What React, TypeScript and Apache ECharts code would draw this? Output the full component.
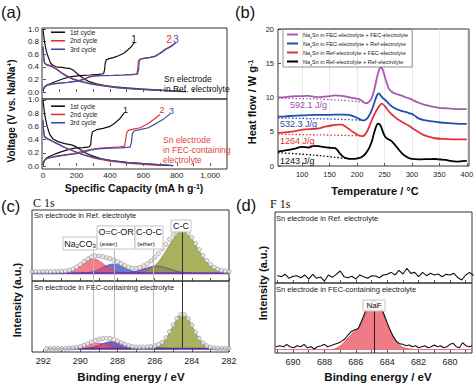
import React, { useEffect, useRef } from "react";
import * as echarts from "echarts";

const FF = '"Liberation Sans", Arial, Helvetica, sans-serif';
const SERIF = '"Liberation Serif", "DejaVu Serif", serif';

// ---------------- (a) charge / discharge profiles ----------------
const CAP_TICKS = [0, 100, 200, 300, 400, 500, 600, 700, 800, 900, 1000];
const CAP_LABELS = [0, 200, 400, 600, 800, 1000];
const VOLT_TICKS = [0, 0.2, 0.4, 0.6, 0.8, 1.0];
const CYCLES = ["1st cycle", "2nd cycle", "3rd cycle"];

// Ref. electrolyte
const REF_DIS_1 = [[0, 1.0], [4, 0.9], [10, 0.78], [20, 0.65], [32, 0.55], [45, 0.46], [60, 0.42], [80, 0.4], [110, 0.39], [140, 0.38], [165, 0.37], [185, 0.34], [205, 0.29], [225, 0.25], [250, 0.2], [280, 0.16], [320, 0.13], [370, 0.1], [430, 0.08], [500, 0.065], [580, 0.05], [680, 0.035], [780, 0.02], [855, 0.005]];
const REF_CHG_1 = [[0, 0.02], [8, 0.07], [25, 0.11], [50, 0.14], [80, 0.17], [120, 0.21], [170, 0.245], [220, 0.26], [280, 0.27], [330, 0.28], [362, 0.29], [368, 0.35], [372, 0.46], [378, 0.51], [395, 0.53], [425, 0.55], [455, 0.58], [485, 0.62], [508, 0.67], [528, 0.72], [547, 0.79]];
const REF_DIS_2 = [[0, 0.72], [3, 0.6], [8, 0.47], [20, 0.44], [50, 0.415], [80, 0.37], [110, 0.31], [140, 0.26], [180, 0.21], [230, 0.17], [290, 0.13], [360, 0.1], [440, 0.07], [540, 0.05], [640, 0.035], [740, 0.02], [820, 0.005]];
const REF_CHG_2 = [[0, 0.03], [8, 0.08], [25, 0.11], [60, 0.13], [100, 0.14], [150, 0.155], [200, 0.175], [240, 0.2], [270, 0.235], [300, 0.255], [350, 0.262], [420, 0.265], [480, 0.27], [530, 0.275], [560, 0.285], [566, 0.35], [570, 0.48], [576, 0.52], [600, 0.535], [640, 0.55], [670, 0.57], [700, 0.62], [730, 0.68], [760, 0.72], [785, 0.77]];
const REF_DIS_3 = [[0, 0.72], [3, 0.6], [8, 0.46], [20, 0.43], [50, 0.405], [80, 0.36], [110, 0.3], [140, 0.25], [180, 0.2], [230, 0.16], [290, 0.125], [360, 0.095], [440, 0.07], [540, 0.05], [640, 0.035], [740, 0.02], [840, 0.005]];
const REF_CHG_3 = [[0, 0.03], [8, 0.08], [25, 0.11], [60, 0.13], [100, 0.14], [150, 0.152], [200, 0.17], [240, 0.195], [270, 0.23], [300, 0.25], [350, 0.26], [420, 0.265], [480, 0.27], [530, 0.275], [565, 0.285], [571, 0.35], [575, 0.48], [581, 0.52], [605, 0.535], [645, 0.55], [675, 0.57], [705, 0.62], [735, 0.68], [765, 0.72], [795, 0.78]];

// FEC-containing electrolyte
const FEC_DIS_1 = [[0, 1.0], [4, 0.9], [12, 0.75], [25, 0.6], [40, 0.48], [60, 0.41], [90, 0.37], [130, 0.34], [170, 0.32], [200, 0.29], [230, 0.24], [260, 0.19], [300, 0.15], [350, 0.11], [420, 0.08], [500, 0.055], [600, 0.035], [700, 0.018], [775, 0.005]];
const FEC_CHG_1 = [[0, 0.02], [8, 0.08], [20, 0.12], [50, 0.16], [90, 0.2], [140, 0.24], [190, 0.27], [240, 0.28], [275, 0.29], [285, 0.32], [290, 0.45], [296, 0.52], [320, 0.55], [360, 0.57], [400, 0.6], [430, 0.65], [460, 0.72], [485, 0.8]];
const FEC_DIS_2 = [[0, 0.68], [3, 0.55], [8, 0.44], [25, 0.41], [60, 0.37], [100, 0.32], [140, 0.27], [190, 0.22], [250, 0.16], [320, 0.11], [400, 0.075], [500, 0.045], [600, 0.025], [710, 0.005]];
const FEC_CHG_2 = [[0, 0.03], [10, 0.09], [30, 0.12], [70, 0.145], [120, 0.165], [180, 0.19], [230, 0.22], [280, 0.25], [340, 0.27], [400, 0.28], [460, 0.29], [488, 0.3], [494, 0.4], [500, 0.5], [510, 0.54], [540, 0.56], [580, 0.58], [620, 0.63], [660, 0.7], [700, 0.78]];
const FEC_DIS_3 = [[0, 0.7], [3, 0.56], [8, 0.45], [25, 0.42], [60, 0.37], [100, 0.32], [140, 0.27], [190, 0.22], [250, 0.165], [320, 0.12], [400, 0.085], [500, 0.055], [600, 0.035], [700, 0.02], [780, 0.005]];
const FEC_CHG_3 = [[0, 0.03], [10, 0.09], [30, 0.12], [70, 0.14], [120, 0.16], [180, 0.18], [230, 0.2], [280, 0.24], [330, 0.26], [400, 0.27], [470, 0.275], [520, 0.285], [528, 0.35], [534, 0.49], [545, 0.53], [580, 0.55], [630, 0.58], [680, 0.65], [720, 0.71], [760, 0.79]];

// ---------------- (b) DSC ----------------
const TEMP_TICKS = [100, 150, 200, 250, 300, 350, 400];
const DSC_NAMES = [
  "NaxSn in FEC-electrolyte + FEC-electrolyte",
  "NaxSn in FEC-electrolyte + Ref-electrolyte",
  "NaxSn in Ref-electrolyte + FEC-electrolyte",
  "NaxSn in Ref-electrolyte + Ref-electrolyte",
];
const DSC_FEC_FEC = [[56, 10.0], [70, 10.05], [87, 10.2], [100, 10.2], [112, 10.25], [122, 10.1], [132, 10.05], [145, 10.15], [160, 10.3], [172, 10.25], [185, 10.05], [195, 9.9], [203, 9.75], [210, 9.45], [216, 9.15], [221, 9.3], [226, 9.8], [231, 11.0], [236, 12.8], [240, 14.0], [243, 14.4], [246, 14.2], [249, 13.5], [253, 12.4], [258, 11.3], [264, 10.8], [270, 10.55], [280, 10.3], [290, 10.0], [300, 9.7], [310, 9.3], [322, 8.95], [335, 8.7], [350, 8.5], [365, 8.4], [380, 8.3], [400, 8.3]];
const DSC_FEC_REF = [[56, 7.2], [70, 7.25], [87, 7.35], [105, 7.4], [124, 7.45], [140, 7.45], [160, 7.5], [175, 7.5], [185, 7.45], [195, 7.2], [202, 6.95], [208, 6.7], [213, 6.65], [218, 6.9], [223, 7.5], [228, 8.4], [233, 9.6], [237, 10.4], [240, 10.6], [243, 10.3], [247, 9.9], [252, 9.6], [258, 9.1], [265, 8.6], [272, 8.3], [282, 8.0], [292, 7.8], [300, 7.6], [306, 7.3], [312, 6.95], [322, 6.7], [337, 6.5], [352, 6.35], [367, 6.25], [385, 6.15], [400, 6.15]];
const DSC_REF_FEC = [[56, 4.8], [69, 4.9], [87, 5.1], [105, 5.35], [118, 5.4], [128, 5.45], [142, 5.75], [155, 5.95], [166, 6.05], [172, 6.05], [178, 5.8], [185, 5.4], [192, 5.0], [200, 4.6], [208, 4.35], [213, 4.45], [218, 5.0], [223, 5.9], [228, 6.9], [234, 7.9], [240, 8.7], [245, 9.1], [249, 8.9], [254, 8.4], [260, 7.8], [268, 7.2], [276, 6.7], [285, 6.3], [294, 5.9], [303, 5.4], [312, 4.95], [321, 4.55], [330, 4.3], [342, 4.05], [355, 3.95], [375, 3.9], [400, 3.9]];
const DSC_REF_REF = [[56, 2.1], [65, 2.2], [75, 2.35], [87, 2.55], [99, 2.8], [106, 2.75], [112, 2.7], [121, 2.95], [130, 2.9], [140, 2.75], [152, 2.65], [160, 2.6], [164, 2.35], [168, 1.9], [174, 1.4], [180, 1.15], [187, 1.05], [195, 1.05], [203, 1.15], [210, 1.4], [216, 1.85], [222, 2.6], [227, 3.6], [231, 4.8], [235, 5.8], [238, 6.2], [241, 6.1], [244, 5.7], [248, 4.8], [252, 4.2], [257, 3.9], [262, 3.7], [268, 3.2], [274, 2.6], [282, 1.85], [290, 1.35], [296, 1.12], [305, 1.0], [315, 0.98], [330, 1.0], [342, 1.02], [352, 0.95], [362, 0.88], [372, 0.72], [382, 0.65], [392, 0.72], [400, 0.75]];
const BASE_FEC_FEC = [[56, 9.9], [120, 9.8], [170, 9.6], [214, 9.3]];
const BASE_FEC_REF = [[56, 7.0], [130, 6.9], [206, 6.7]];
const BASE_REF_FEC = [[56, 4.65], [130, 4.55], [210, 4.4]];
const BASE_REF_REF = [[56, 1.95], [120, 1.6], [186, 1.05]];
const HEATS = ["592.1 J/g", "532.3 J/g", "1264 J/g", "1243 J/g"];

// ---------------- (c) C 1s ----------------
const BE_C_TICKS = [282, 283, 284, 285, 286, 287, 288, 289, 290, 291, 292];
const BE_C_LABELS = [282, 284, 286, 288, 290, 292];
const C1S_LINES = [289.3, 288.15, 286.07, 284.54];
const C_REF_ENV = [[292.6, 13.0], [292.4, 13.0], [292.2, 13.0], [292.0, 13.1], [291.8, 13.2], [291.6, 13.3], [291.4, 13.4], [291.2, 13.5], [291.0, 13.7], [290.8, 14.0], [290.6, 15.0], [290.4, 16.9], [290.2, 19.6], [290.0, 23.0], [289.8, 27.2], [289.6, 31.0], [289.4, 34.0], [289.2, 35.4], [289.0, 35.3], [288.8, 34.3], [288.6, 32.8], [288.4, 31.4], [288.2, 29.6], [288.0, 27.2], [287.8, 24.5], [287.6, 21.6], [287.4, 19.4], [287.2, 18.0], [287.0, 17.9], [286.8, 19.0], [286.6, 21.3], [286.4, 24.3], [286.2, 28.4], [286.0, 33.2], [285.8, 38.7], [285.6, 45.0], [285.4, 51.7], [285.2, 58.7], [285.0, 65.1], [284.8, 69.8], [284.6, 72.1], [284.4, 71.4], [284.2, 67.5], [284.0, 61.1], [283.8, 52.8], [283.6, 44.1], [283.4, 35.9], [283.2, 28.8], [283.0, 23.3], [282.8, 19.3], [282.6, 16.6], [282.4, 15.0], [282.2, 14.0], [282.0, 13.5]];
const C_REF_NA2CO3 = [[291.4, 11.0], [291.2, 11.1], [291.0, 11.3], [290.8, 11.8], [290.6, 12.8], [290.4, 14.6], [290.2, 17.3], [290.0, 20.9], [289.8, 25.0], [289.6, 28.5], [289.4, 30.6], [289.2, 30.6], [289.0, 28.5], [288.8, 25.0], [288.6, 20.9], [288.4, 17.3], [288.2, 14.6], [288.0, 12.8], [287.8, 11.8], [287.6, 11.3], [287.4, 11.1], [287.2, 11.0]];
const C_REF_ESTER = [[290.0, 11.1], [289.8, 11.35], [289.6, 11.8], [289.4, 12.7], [289.2, 14.2], [289.0, 16.3], [288.8, 18.8], [288.6, 21.4], [288.4, 23.3], [288.2, 24.0], [288.0, 23.3], [287.8, 21.4], [287.6, 18.8], [287.4, 16.3], [287.2, 14.2], [287.0, 12.7], [286.8, 11.8], [286.6, 11.35], [286.4, 11.1]];
const C_REF_ETHER = [[287.8, 11.2], [287.6, 11.4], [287.4, 11.9], [287.2, 12.6], [287.0, 13.7], [286.8, 15.2], [286.6, 16.9], [286.4, 18.6], [286.2, 20.1], [286.0, 20.9], [285.8, 20.9], [285.6, 20.1], [285.4, 18.6], [285.2, 16.9], [285.0, 15.2], [284.8, 13.7], [284.6, 12.6], [284.4, 11.9], [284.2, 11.4], [284.0, 11.2]];
const C_REF_CC = [[287.2, 11.2], [287.0, 11.5], [286.8, 12.0], [286.6, 13.0], [286.4, 14.6], [286.2, 17.3], [286.0, 21.3], [285.8, 26.8], [285.6, 33.9], [285.4, 42.1], [285.2, 50.8], [285.0, 58.9], [284.8, 65.1], [284.6, 68.5], [284.4, 68.5], [284.2, 65.1], [284.0, 58.9], [283.8, 50.8], [283.6, 42.1], [283.4, 33.9], [283.2, 26.8], [283.0, 21.3], [282.8, 17.3], [282.6, 14.6], [282.4, 13.0], [282.2, 12.0], [282.0, 11.5]];
const C_REF_BASE = [[292.6, 11], [282.0, 11]];

const C_FEC_ENV = [[291.8, 5.0], [291.6, 5.0], [291.4, 5.0], [291.2, 5.0], [291.0, 5.05], [290.8, 5.15], [290.6, 5.35], [290.4, 5.75], [290.2, 6.5], [290.0, 7.7], [289.8, 9.4], [289.6, 11.5], [289.4, 13.9], [289.2, 16.1], [289.0, 17.9], [288.8, 19.1], [288.6, 19.4], [288.4, 18.9], [288.2, 17.4], [288.0, 15.4], [287.8, 13.0], [287.6, 10.6], [287.4, 8.8], [287.2, 7.6], [287.0, 7.0], [286.8, 6.8], [286.6, 6.8], [286.4, 7.2], [286.2, 7.6], [286.0, 8.6], [285.8, 10.4], [285.6, 13.6], [285.4, 20.0], [285.2, 28.6], [285.0, 38.2], [284.8, 47.2], [284.6, 52.4], [284.4, 52.3], [284.2, 46.9], [284.0, 37.8], [283.8, 27.8], [283.6, 19.0], [283.4, 12.6], [283.2, 8.7], [283.0, 6.6], [282.8, 5.6], [282.6, 5.2], [282.4, 5.0], [282.2, 5.0], [282.0, 5.0]];
const C_FEC_NA2CO3 = [[291.0, 4.55], [290.8, 4.6], [290.6, 4.8], [290.4, 5.2], [290.2, 5.95], [290.0, 7.0], [289.8, 8.5], [289.6, 10.1], [289.4, 11.55], [289.2, 12.4], [289.0, 12.4], [288.8, 11.55], [288.6, 10.1], [288.4, 8.5], [288.2, 7.0], [288.0, 5.95], [287.8, 5.2], [287.6, 4.8], [287.4, 4.6], [287.2, 4.55]];
const C_FEC_ESTER = [[290.2, 4.56], [290.0, 4.7], [289.8, 4.9], [289.6, 5.4], [289.4, 6.3], [289.2, 7.7], [289.0, 9.5], [288.8, 11.5], [288.6, 13.3], [288.4, 14.4], [288.2, 14.4], [288.0, 13.3], [287.8, 11.5], [287.6, 9.5], [287.4, 7.7], [287.2, 6.3], [287.0, 5.4], [286.8, 4.9], [286.6, 4.7], [286.4, 4.56]];
const C_FEC_ETHER = [[287.8, 4.66], [287.6, 4.8], [287.4, 5.0], [287.2, 5.25], [287.0, 5.55], [286.8, 5.9], [286.6, 6.1], [286.4, 6.3], [286.2, 6.3], [286.0, 6.1], [285.8, 5.9], [285.6, 5.55], [285.4, 5.25], [285.2, 5.0], [285.0, 4.8], [284.8, 4.66]];
const C_FEC_CC = [[286.4, 4.7], [286.2, 5.1], [286.0, 6.1], [285.8, 8.2], [285.6, 12.1], [285.4, 18.5], [285.2, 27.3], [285.0, 37.3], [284.8, 46.4], [284.6, 51.8], [284.4, 51.8], [284.2, 46.4], [284.0, 37.3], [283.8, 27.3], [283.6, 18.5], [283.4, 12.1], [283.2, 8.2], [283.0, 6.1], [282.8, 5.1], [282.6, 4.7]];
const C_FEC_BASE = [[291.8, 4.5], [282.0, 4.5]];

// ---------------- (d) F 1s ----------------
const BE_F_TICKS = [679, 680, 681, 682, 683, 684, 685, 686, 687, 688, 689, 690, 691];
const BE_F_LABELS = [680, 682, 684, 686, 688, 690];
const F_REF_BE = [691.0, 690.75, 690.5, 690.25, 690.0, 689.75, 689.5, 689.25, 689.0, 688.75, 688.5, 688.25, 688.0, 687.75, 687.5, 687.25, 687.0, 686.75, 686.5, 686.25, 686.0, 685.75, 685.5, 685.25, 685.0, 684.75, 684.5, 684.25, 684.0, 683.75, 683.5, 683.25, 683.0, 682.75, 682.5, 682.25, 682.0, 681.75, 681.5, 681.25, 681.0, 680.75, 680.5, 680.25, 680.0, 679.75, 679.5, 679.25, 679.0, 678.75, 678.5];
const F_REF_INT = [10.5, 8.9, 12.2, 6.6, 9.4, 10.3, 7.5, 11.3, 5.6, 12.2, 6.6, 8.5, 2.8, 11.3, 8.0, 12.2, 16.9, 8.9, 7.5, 9.4, 5.6, 11.3, 8.9, 6.6, 10.3, 9.9, 7.5, 11.3, 12.2, 15.0, 11.3, 17.8, 12.7, 20.7, 13.6, 15.0, 8.9, 15.0, 10.3, 13.6, 11.3, 12.7, 8.9, 12.2, 11.3, 13.6, 7.5, 4.2, 11.3, 15.0, 10.3];
const F_FEC_ENV = [[691.1, 9.0], [690.85, 10.4], [690.6, 9.0], [690.4, 12.4], [690.2, 9.0], [689.95, 7.6], [689.75, 10.4], [689.5, 9.0], [689.3, 12.4], [689.1, 7.6], [688.85, 9.0], [688.65, 5.7], [688.45, 9.0], [688.2, 10.4], [688.0, 12.4], [687.8, 9.0], [687.6, 10.4], [687.35, 12.4], [687.15, 13.8], [686.95, 16.2], [686.7, 20], [686.5, 25.7], [686.3, 30.5], [686.1, 33], [685.85, 35], [685.65, 45], [685.45, 56], [685.3, 64], [685.1, 72], [684.85, 75], [684.6, 72], [684.4, 65], [684.2, 55], [684.0, 43], [683.8, 32], [683.6, 23], [683.4, 16.5], [683.2, 13], [683.0, 12.4], [682.8, 10.4], [682.6, 11.4], [682.4, 9.0], [682.2, 10.4], [682.0, 7.6], [681.8, 9.0], [681.6, 10.4], [681.4, 7.6], [681.2, 9.0], [681.0, 11.4], [680.8, 9.0], [680.6, 10.4], [680.4, 7.6], [680.2, 9.0], [680.0, 12.4], [679.8, 13.8], [679.6, 9.0], [679.4, 7.6], [679.2, 14.7], [679.0, 10.4], [678.8, 9.0], [678.6, 10.4]];
const F_FEC_NAF = [[687.6, 5.2], [687.4, 5.5], [687.2, 7], [687.0, 10], [686.8, 14], [686.6, 19], [686.4, 24], [686.2, 28.5], [686.0, 32], [685.8, 36], [685.6, 44], [685.4, 55], [685.2, 63.3], [685.0, 70.4], [684.8, 73], [684.6, 70.4], [684.4, 63.3], [684.2, 53.1], [684.0, 41.8], [683.8, 31.0], [683.6, 22.1], [683.4, 15.3], [683.2, 10.8], [683.0, 8.0], [682.8, 6.5], [682.6, 5.7], [682.4, 5.3], [682.2, 5.1]];
const F_FEC_BASE = [[691.2, 5], [678.6, 5]];
const NAF_LINE = 684.85;

// ---------------- styling helpers ----------------
const BLACK = "#111111";
const RED = "#e2323a";
const BLUE = "#3d4ea6";
const PURPLE_B = "#a958b3";
const BLUE_B = "#2150b2";

const tick = (values: number[] | null, show = true) => ({
  show,
  inside: true,
  length: 3,
  lineStyle: { color: "#333", width: 0.8 },
  ...(values ? { customValues: values } : {}),
});

const grid = (left: number, top: number, width: number, height: number) => ({
  left, top, width, height,
  show: true,
  borderColor: "#333",
  borderWidth: 1,
  backgroundColor: "transparent",
  containLabel: false,
  outerBoundsMode: "none",
});

const ax = (gi: number, min: number, max: number, extra: any = {}) => ({
  type: "value",
  gridIndex: gi,
  min, max,
  axisLine: { show: false },
  splitLine: { show: false },
  ...extra,
});

const lbl = (values: number[] | null, fontSize: number, margin: number, extra: any = {}) => ({
  show: true,
  fontFamily: FF,
  color: "#222",
  fontSize,
  margin,
  ...(values ? { customValues: values } : {}),
  ...extra,
});

const line = (name: string, data: any, gi: number, color: string, width: number, extra: any = {}) => ({
  type: "line",
  name,
  data,
  xAxisIndex: gi,
  yAxisIndex: gi,
  symbol: "none",
  showSymbol: false,
  lineStyle: { color, width },
  itemStyle: { color },
  z: 3,
  ...extra,
});

const fill = (data: any, gi: number, color: string, stroke: string, origin: number) => ({
  type: "line",
  data,
  xAxisIndex: gi,
  yAxisIndex: gi,
  symbol: "none",
  smooth: 0.3,
  lineStyle: { color: stroke, width: 0.7 },
  areaStyle: { color, origin, opacity: 1 },
  z: 2,
  silent: true,
});

const dots = (data: any, gi: number) => ({
  type: "scatter",
  data,
  xAxisIndex: gi,
  yAxisIndex: gi,
  symbol: "circle",
  symbolSize: 4.2,
  itemStyle: { color: "rgba(228,228,228,0.95)", borderColor: "#8a8a8a", borderWidth: 0.8 },
  z: 4,
  silent: true,
});

const vlines = (gi: number, xs: number[], ext: number[][], colors: string[]) => ({
  type: "line",
  data: [],
  xAxisIndex: gi,
  yAxisIndex: gi,
  z: 5,
  silent: true,
  markLine: {
    silent: true,
    symbol: ["none", "none"],
    label: { show: false },
    lineStyle: { type: "solid", width: 1, color: "#b5b5b5" },
    data: xs.map((x, i) => [
      { coord: [x, ext[i][0]], lineStyle: { color: colors[i], type: "solid", width: 1 } },
      { coord: [x, ext[i][1]] },
    ]),
  },
});

const txt = (x: number, y: number, text: string, o: any = {}) => ({
  type: "text",
  x, y,
  z: 100,
  rotation: o.rotation || 0,
  style: {
    text,
    fontFamily: o.fontFamily || FF,
    fontSize: o.fontSize || 9,
    fontWeight: o.fontWeight || "normal",
    fill: o.fill || "#111",
    align: o.align || "left",
    verticalAlign: o.verticalAlign || "middle",
    rich: o.rich,
  },
});

const box = (x: number, y: number, w: number, h: number) => ({
  type: "rect",
  z: 99,
  shape: { x, y, width: w, height: h },
  style: { fill: "rgba(255,255,255,0.9)", stroke: "#c4c4c4", lineWidth: 1 },
});

const SUP = (fs: number) => ({ sup: { fontSize: fs, fontWeight: "bold", fontFamily: FF, verticalAlign: "top", padding: [0, 0, 4, 0] } });
const SUB = (fs: number) => ({ sub: { fontSize: fs, fontFamily: FF, verticalAlign: "bottom", padding: [4, 0, 0, 0] } });

const option: any = {
  animation: false,
  backgroundColor: "#ffffff",
  textStyle: { fontFamily: FF },
  grid: [
    grid(42, 28, 185, 71),
    grid(42, 99, 185, 70),
    grid(278, 29, 191, 137),
    grid(32, 210, 197, 71),
    grid(32, 281, 197, 71),
    grid(275, 212, 197, 71),
    grid(275, 283, 197, 70),
  ],
  xAxis: [
    ax(0, -6, 1100, { axisTick: tick(CAP_TICKS), axisLabel: { show: false } }),
    ax(1, -6, 1100, { axisTick: tick(CAP_TICKS), axisLabel: lbl(CAP_LABELS, 8, 2) }),
    ax(2, 56, 404, {
      axisTick: tick(TEMP_TICKS),
      axisLabel: lbl(TEMP_TICKS, 7.5, 4),
      splitLine: { show: true, lineStyle: { color: "#e3e3e3", width: 0.8 } },
    }),
    ax(3, 282, 292.6, { inverse: true, axisTick: tick(BE_C_TICKS), axisLabel: { show: false } }),
    ax(4, 282, 292.6, { inverse: true, axisTick: tick(BE_C_TICKS), axisLabel: lbl(BE_C_LABELS, 9, 4) }),
    ax(5, 678.6, 691.15, { inverse: true, axisTick: tick(BE_F_TICKS), axisLabel: { show: false } }),
    ax(6, 678.6, 691.15, { inverse: true, axisTick: tick(BE_F_TICKS), axisLabel: lbl(BE_F_LABELS, 9, 4) }),
  ],
  yAxis: [
    ax(0, -0.111, 1.016, { axisTick: tick(VOLT_TICKS), axisLabel: lbl(VOLT_TICKS, 8, 3, { formatter: (v: number) => v.toFixed(1) }) }),
    ax(1, -0.045, 1.015, { axisTick: tick(VOLT_TICKS), axisLabel: lbl(VOLT_TICKS, 8, 3, { formatter: (v: number) => v.toFixed(1) }) }),
    ax(2, 0, 20, { interval: 5, axisTick: tick(null), axisLabel: lbl(null, 7.5, 4) }),
    ax(3, 0, 100, { axisTick: { show: false }, axisLabel: { show: false } }),
    ax(4, 0, 100, { axisTick: { show: false }, axisLabel: { show: false } }),
    ax(5, 0, 100, { axisTick: { show: false }, axisLabel: { show: false } }),
    ax(6, 0, 100, { axisTick: { show: false }, axisLabel: { show: false } }),
  ],
  legend: [
    {
      data: CYCLES, left: 51, top: 28, orient: "vertical", icon: "rect",
      itemWidth: 14, itemHeight: 1.6, itemGap: 0, padding: 0, selectedMode: false,
      textStyle: { fontFamily: FF, fontSize: 6.5, lineHeight: 8.5, color: "#222" },
    },
    {
      data: CYCLES, left: 51, top: 102, orient: "vertical", icon: "rect",
      itemWidth: 14, itemHeight: 1.6, itemGap: 0, padding: 0, selectedMode: false,
      textStyle: { fontFamily: FF, fontSize: 6.5, lineHeight: 8.3, color: "#222" },
    },
    {
      data: DSC_NAMES, left: 283, top: 29, orient: "vertical", icon: "rect",
      itemWidth: 11, itemHeight: 2, itemGap: 0, padding: [1, 4, 1, 4], selectedMode: false,
      borderColor: "#777", borderWidth: 0.8,
      formatter: (n: string) => n.replace("Nax", "Na{s|x}"),
      textStyle: {
        fontFamily: FF, fontSize: 5.5, lineHeight: 9, color: "#222",
        rich: { s: { fontFamily: FF, fontSize: 4, verticalAlign: "bottom", lineHeight: 9, padding: [3, 0, 0, 0], color: "#222" } },
      },
    },
  ],
  series: [
    // (a) top — Ref. electrolyte
    line(CYCLES[0], REF_DIS_1, 0, BLACK, 1.2),
    line(CYCLES[0], REF_CHG_1, 0, BLACK, 1.2),
    line(CYCLES[1], REF_DIS_2, 0, RED, 1.2),
    line(CYCLES[1], REF_CHG_2, 0, RED, 1.2),
    line(CYCLES[2], REF_DIS_3, 0, BLUE, 1.2),
    line(CYCLES[2], REF_CHG_3, 0, BLUE, 1.2),
    // (a) bottom — FEC electrolyte
    line(CYCLES[0], FEC_DIS_1, 1, BLACK, 1.2),
    line(CYCLES[0], FEC_CHG_1, 1, BLACK, 1.2),
    line(CYCLES[1], FEC_DIS_2, 1, RED, 1.2),
    line(CYCLES[1], FEC_CHG_2, 1, RED, 1.2),
    line(CYCLES[2], FEC_DIS_3, 1, BLUE, 1.2),
    line(CYCLES[2], FEC_CHG_3, 1, BLUE, 1.2),
    // (b) DSC
    line(DSC_NAMES[3], DSC_REF_REF, 2, "#000000", 1.8, { smooth: 0.3 }),
    line(DSC_NAMES[2], DSC_REF_FEC, 2, RED, 1.8, { smooth: 0.3 }),
    line(DSC_NAMES[1], DSC_FEC_REF, 2, BLUE_B, 1.8, { smooth: 0.3 }),
    line(DSC_NAMES[0], DSC_FEC_FEC, 2, PURPLE_B, 1.8, { smooth: 0.3 }),
    line("b0", BASE_FEC_FEC, 2, PURPLE_B, 1.3, { smooth: 0.3, lineStyle: { color: PURPLE_B, width: 1.3, type: [1.5, 2] } }),
    line("b1", BASE_FEC_REF, 2, BLUE_B, 1.3, { smooth: 0.3, lineStyle: { color: BLUE_B, width: 1.3, type: [1.5, 2] } }),
    line("b2", BASE_REF_FEC, 2, RED, 1.3, { smooth: 0.3, lineStyle: { color: RED, width: 1.3, type: [1.5, 2] } }),
    line("b3", BASE_REF_REF, 2, "#000", 1.3, { smooth: 0.3, lineStyle: { color: "#000", width: 1.3, type: [1.5, 2] } }),
    // (c) top
    fill(C_REF_ETHER, 3, "rgba(104,52,172,0.78)", "#5b2c9a", 11),
    fill(C_REF_CC, 3, "rgba(150,160,58,0.82)", "#7d8630", 11),
    fill(C_REF_ESTER, 3, "rgba(62,84,196,0.78)", "#3a4cb0", 11),
    fill(C_REF_NA2CO3, 3, "rgba(244,74,96,0.72)", "#e03a55", 11),
    line("cb0", C_REF_BASE, 3, "#6a3aa8", 2),
    dots(C_REF_ENV, 3),
    vlines(3, C1S_LINES, [[44, 0], [46.5, 0], [46.5, 0], [69, 0]], ["#b8b8b8", "#b8b8b8", "#b8b8b8", "#333"]),
    // (c) bottom
    fill(C_FEC_ETHER, 4, "rgba(104,52,172,0.78)", "#5b2c9a", 4.5),
    fill(C_FEC_CC, 4, "rgba(150,160,58,0.82)", "#7d8630", 4.5),
    fill(C_FEC_ESTER, 4, "rgba(84,52,176,0.8)", "#4a30a0", 4.5),
    fill(C_FEC_NA2CO3, 4, "rgba(244,74,96,0.72)", "#e03a55", 4.5),
    line("cb1", C_FEC_BASE, 4, "#5a3098", 2),
    dots(C_FEC_ENV, 4),
    vlines(4, C1S_LINES, [[100, 10], [100, 20], [100, 4], [100, 6]], ["#b8b8b8", "#b8b8b8", "#b8b8b8", "#333"]),
    // (d) top
    line("d0", F_REF_BE.map((x, i) => [x, F_REF_INT[i]]), 5, "#111", 1.1),
    // (d) bottom
    fill(F_FEC_NAF, 6, "rgba(236,84,100,0.78)", "#c0303e", 5),
    line("d1", F_FEC_BASE, 6, "#f07080", 1.2),
    line("d2", F_FEC_ENV, 6, "#111", 1.1),
    vlines(6, [NAF_LINE], [[61, 0]], ["#222"]),
  ],
  graphic: {
    elements: [
      // panel letters
      txt(1, 12, "(a)", { fontSize: 16.5 }),
      txt(235, 12, "(b)", { fontSize: 16.5 }),
      txt(1, 206, "(c)", { fontSize: 16.5 }),
      txt(236, 205, "(d)", { fontSize: 16.5 }),
      // (a)
      txt(11, 111, "Voltage (V vs. Na/Na{sup|+})", { rotation: Math.PI / 2, align: "center", fontSize: 10, fontWeight: "bold", rich: SUP(6.5) }),
      txt(134, 188, "Specific Capacity (mA h g{sup|-1})", { align: "center", fontSize: 10.5, fontWeight: "bold", rich: SUP(7) }),
      txt(134, 39.5, "1", { align: "center", fontSize: 10, fill: BLACK }),
      txt(169, 39.5, "2", { align: "center", fontSize: 10, fill: RED }),
      txt(176, 39.5, "3", { align: "center", fontSize: 10, fill: BLUE }),
      txt(125.5, 110, "1", { align: "center", fontSize: 9, fill: BLACK }),
      txt(162, 110, "2", { align: "center", fontSize: 9, fill: RED }),
      txt(171.5, 110.5, "3", { align: "center", fontSize: 9, fill: BLUE }),
      txt(164, 78.5, "Sn electrode", { fontSize: 8.5 }),
      txt(164, 88.5, "in Ref. electrolyte", { fontSize: 8.5 }),
      txt(163, 139.5, "Sn electrode", { fontSize: 8.5, fill: "#e0443c" }),
      txt(163, 149.5, "in FEC-containing", { fontSize: 8.5, fill: "#e0443c" }),
      txt(163, 159.5, "electrolyte", { fontSize: 8.5, fill: "#e0443c" }),
      // (b)
      txt(252, 102, "Heat flow / W g{sup|-1}", { rotation: Math.PI / 2, align: "center", fontSize: 11, fontWeight: "bold", rich: SUP(7) }),
      txt(375, 191, "Temperature / °C", { align: "center", fontSize: 11, fontWeight: "bold" }),
      txt(290, 104.5, HEATS[0], { fontSize: 9, fill: "#a24ea8" }),
      txt(280, 123.5, HEATS[1], { fontSize: 9, fill: "#2a48a2" }),
      txt(280, 140.5, HEATS[2], { fontSize: 9, fill: "#e03030" }),
      txt(280, 161, HEATS[3], { fontSize: 9, fill: "#111" }),
      // (c)
      txt(33, 203, "C 1s", { fontSize: 12, fontFamily: SERIF }),
      txt(17, 300, "Intensity (a.u.)", { rotation: Math.PI / 2, align: "center", fontSize: 11, fontWeight: "bold" }),
      txt(131, 377, "Binding energy / eV", { align: "center", fontSize: 11.5, fontWeight: "bold" }),
      txt(34, 215.5, "Sn electrode in Ref. electrolyte", { fontSize: 7.5, fill: "#222" }),
      txt(34, 287.5, "Sn electrode in FEC-containing electrolyte", { fontSize: 7.5, fill: "#222" }),
      box(63, 237, 34, 13),
      txt(80, 243.5, "Na{sub|2}CO{sub|3}", { align: "center", fontSize: 9, rich: SUB(6) }),
      box(97, 226, 38, 23),
      txt(116, 232, "O=C-OR", { align: "center", fontSize: 9 }),
      txt(108.5, 244, "(ester)", { align: "center", fontSize: 6 }),
      box(135, 226, 28, 23),
      txt(149, 232, "C-O-C", { align: "center", fontSize: 9 }),
      txt(146, 244, "(ether)", { align: "center", fontSize: 6 }),
      box(171, 220, 20, 12),
      txt(181, 226, "C-C", { align: "center", fontSize: 9 }),
      // (d)
      txt(270, 204, "F 1s", { fontSize: 12, fontFamily: SERIF }),
      txt(263, 283, "Intensity (a.u.)", { rotation: Math.PI / 2, align: "center", fontSize: 11, fontWeight: "bold" }),
      txt(378, 377, "Binding energy / eV", { align: "center", fontSize: 11.5, fontWeight: "bold" }),
      txt(276, 218.5, "Sn electrode in Ref. electrolyte", { fontSize: 7.5, fill: "#222" }),
      txt(276, 289.5, "Sn electrode in FEC-containing electrolyte", { fontSize: 7.5, fill: "#222" }),
      box(363, 300, 22, 11),
      txt(374, 305.5, "NaF", { align: "center", fontSize: 8 }),
    ],
  },
};

export default function App() {
  const ref = useRef<HTMLDivElement>(null);
  useEffect(() => {
    const chart = echarts.init(ref.current as HTMLDivElement, null, { renderer: "svg" });
    chart.setOption(option);
    return () => chart.dispose();
  }, []);
  return (
    <div
      ref={ref}
      style={{ position: "fixed", left: 0, top: 0, width: 474, height: 387, background: "#fff" }}
    />
  );
}
